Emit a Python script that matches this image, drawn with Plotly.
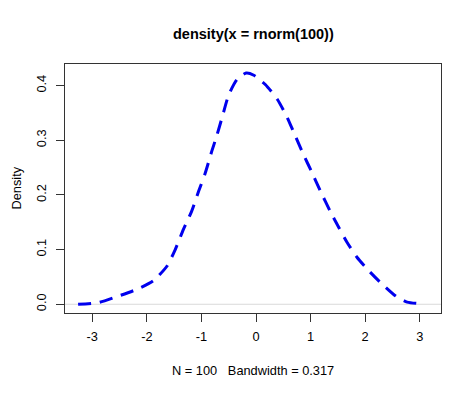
import plotly.graph_objects as go

# Density curve
dens_x = [-3.26, -2.89, -2.58, -2.19, -1.88, -1.63, -1.48, -1.33, -1.18, -1.05,
          -0.93, -0.81, -0.72, -0.62, -0.50, -0.35, -0.18, -0.04, 0.17, 0.39,
          0.57, 0.72, 0.86, 1.03, 1.18, 1.36, 1.52, 1.67, 1.85, 2.07, 2.31,
          2.56, 2.77, 3.02]
dens_y = [0.000, 0.003, 0.013, 0.027, 0.043, 0.070, 0.100, 0.137, 0.170, 0.207,
          0.240, 0.280, 0.308, 0.342, 0.383, 0.411, 0.423, 0.419, 0.402, 0.375,
          0.342, 0.308, 0.276, 0.240, 0.207, 0.170, 0.140, 0.113, 0.086, 0.061,
          0.037, 0.015, 0.004, 0.001]

x_ticks = [-3, -2, -1, 0, 1, 2, 3]
y_ticks = [0.0, 0.1, 0.2, 0.3, 0.4]
y_tick_labels = ["0.0", "0.1", "0.2", "0.3", "0.4"]

title_text = "density(x = rnorm(100))"
x_label = "N = 100   Bandwidth = 0.317"
y_label = "Density"

font_family = "Liberation Sans, Arial, sans-serif"

# page body has an 8px margin; figure sized/placed to compensate
PAD = 8
W, H = 474 - 2 * PAD, 395 - 2 * PAD
L, T = 65 - PAD, 64 - PAD
R = W - (441 - PAD)
B = H - (313 - PAD)
PW, PH = W - L - R, H - T - B

fig = go.Figure()

# zero line (grey)
fig.add_trace(go.Scatter(
    x=[-3.6, 3.5], y=[0, 0], mode="lines",
    line=dict(color="#d9d9d9", width=1.2),
    hoverinfo="skip", showlegend=False,
))

fig.add_trace(go.Scatter(
    x=dens_x, y=dens_y, mode="lines",
    line=dict(color="#0000ee", width=3, dash="13px,9px", shape="spline", smoothing=0.6),
    showlegend=False,
))

fig.update_layout(
    width=W, height=H,
    margin=dict(l=L, r=R, t=T, b=B, autoexpand=False),
    paper_bgcolor="white", plot_bgcolor="white",
    font=dict(family=font_family, size=12, color="black"),
    xaxis=dict(
        range=[-3.50, 3.39], tickvals=x_ticks, ticktext=[str(v) for v in x_ticks],
        ticks="outside", ticklen=8, tickwidth=1, tickcolor="#333",
        showline=True, linecolor="#333", linewidth=1, mirror=True,
        showgrid=False, zeroline=False, ticklabelstandoff=4,
        tickfont=dict(size=12.8),
    ),
    yaxis=dict(
        range=[-0.016, 0.4395], tickvals=y_ticks, ticktext=y_tick_labels,
        ticks="outside", ticklen=8, tickwidth=1, tickcolor="#333",
        showline=True, linecolor="#333", linewidth=1, mirror=True,
        showgrid=False, zeroline=False, tickangle=-90, ticklabelstandoff=5,
        tickfont=dict(size=12.8),
    ),
    annotations=[
        dict(text="<b>" + title_text + "</b>", xref="paper", yref="paper",
             x=0.5, y=1 + 30 / PH, xanchor="center", yanchor="middle",
             showarrow=False, font=dict(size=14.5)),
        dict(text=x_label, xref="paper", yref="paper",
             x=0.5, y=-(370 - 313) / PH, xanchor="center", yanchor="middle",
             showarrow=False, font=dict(size=12.8)),
        dict(text=y_label, xref="paper", yref="paper",
             x=-(65 - 16) / PW, y=0.5, xanchor="center", yanchor="middle",
             textangle=-90, showarrow=False, font=dict(size=12.8)),
    ],
)

fig.write_html("out.html")
